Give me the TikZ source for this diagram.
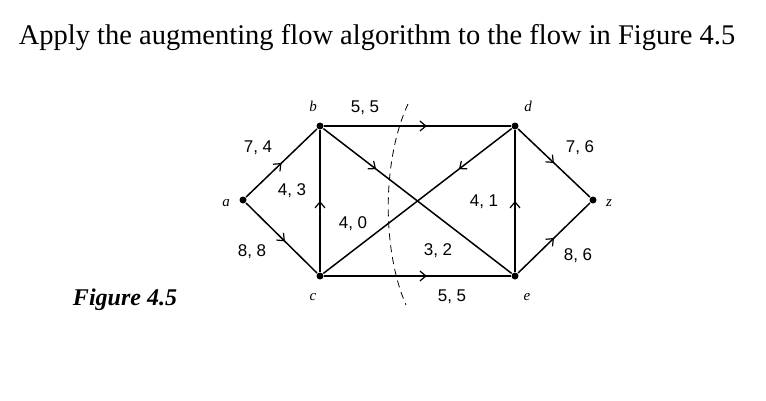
\documentclass[tikz,border=0pt]{standalone}
\usepackage{fontspec}
\setmainfont{Liberation Serif}
\newfontfamily\labelfont{Liberation Sans}
\usetikzlibrary{arrows.meta,decorations.markings}

\begin{document}
\begin{tikzpicture}[x=1pt, y=-1pt, line width=1.5pt,
  vtx/.style={circle, fill=black, inner sep=0pt, minimum size=7pt},
  vname/.style={font=\itshape\fontsize{15}{15}\selectfont},
  flowlabel/.style={font=\labelfont\fontsize{17}{17}\selectfont},
  flow/.style={postaction={decorate}, decoration={markings,
    mark=at position #1 with {\arrow[line width=1.2pt]{Straight Barb[length=6pt,width=10pt]}}}}]
\useasboundingbox (0,0) rectangle (766,400);
\node at (377,38) {\fontsize{28.5}{28.5}\selectfont Apply the augmenting flow algorithm to the flow in Figure 4.5};
\node (fig) at (125,300) {\fontsize{24}{24}\selectfont\bfseries\itshape Figure 4.5};
% vertices
\node[vtx] (a) at (243,200) {};
\node[vtx] (b) at (320,126) {};
\node[vtx] (c) at (320,276) {};
\node[vtx] (d) at (515,126) {};
\node[vtx] (e) at (515,276) {};
\node[vtx] (z) at (593,200) {};
\node[vname] at (226,203) {a};
\node[vname] at (313,106) {b};
\node[vname] at (313,297) {c};
\node[vname] at (528,106) {d};
\node[vname] at (527,297) {e};
\node[vname] at (609,203) {z};
% edges
\draw[flow=0.5]  (a) -- (b);
\draw[flow=0.55] (a) -- (c);
\draw[flow=0.55] (b) -- (d);
\draw[flow=0.55] (c) -- (e);
\draw[flow=0.5]  (c) -- (b);
\draw[flow=0.5]  (e) -- (d);
\draw[flow=0.28] (b) -- (e);
\draw[flow=0.28] (d) -- (c);
\draw[flow=0.5]  (d) -- (z);
\draw[flow=0.5]  (e) -- (z);
% cut
\draw[line width=0.8pt, dash pattern=on 7pt off 5pt] (408,104) .. controls (382,160) and (382,250) .. (406,305);
% capacities
\node[flowlabel] at (258,148) {7, 4};
\node[flowlabel] at (292,191) {4, 3};
\node[flowlabel] at (252,252) {8, 8};
\node[flowlabel] at (365,108) {5, 5};
\node[flowlabel] at (353,224) {4, 0};
\node[flowlabel] at (438,251) {3, 2};
\node[flowlabel] at (452,297) {5, 5};
\node[flowlabel] at (484,202) {4, 1};
\node[flowlabel] at (580,148) {7, 6};
\node[flowlabel] at (578,256) {8, 6};
\end{tikzpicture}
\end{document}
